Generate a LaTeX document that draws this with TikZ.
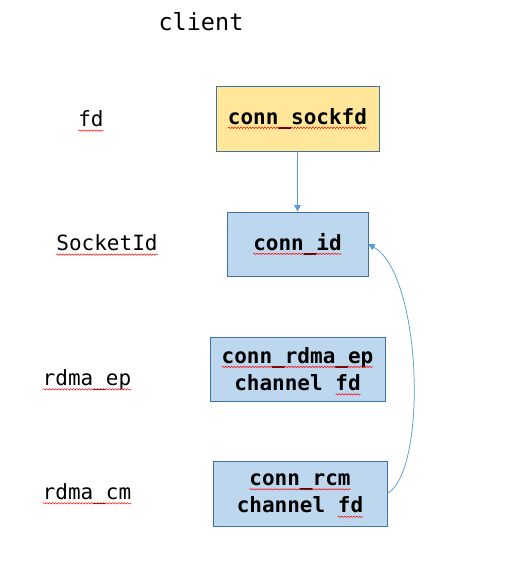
\documentclass[tikz,border=0pt]{standalone}
\usepackage{fontspec}
\usetikzlibrary{decorations.pathmorphing,arrows.meta}
\newfontfamily\monof{DejaVu Sans Mono}
\definecolor{boxblue}{HTML}{BDD7EE}
\definecolor{boxyellow}{HTML}{FFE699}
\definecolor{edgeblue}{HTML}{41719C}
\definecolor{arrowblue}{HTML}{5B9BD5}
\tikzset{
  wv/.style={shape=rectangle,draw=none,fill=none,minimum width=0pt,minimum height=0pt,inner sep=0pt,outer sep=0pt},
  squig/.style={overlay,draw=red,line width=0.5pt,decorate,decoration={snake,amplitude=0.7pt,segment length=3pt}},
  boxnode/.style={draw=edgeblue,line width=0.7pt,align=center,font=\monof\fontsize{21}{27.5}\selectfont\bfseries,inner sep=0pt},
  lbl/.style={font=\monof\fontsize{21}{26}\selectfont,inner sep=0pt},
  conn/.style={draw=arrowblue,line width=0.75pt,-{Triangle[length=6.5pt,width=6.5pt]}}
}
\newcommand\wavy[1]{\tikz[baseline=(w.base)]{\node[wv](w){#1};\path[squig] ([yshift=-3.8pt]w.base west) -- ([yshift=-3.8pt]w.base east);}}
\begin{document}
\begin{tikzpicture}[x=1pt,y=-1pt]
\useasboundingbox (0,0) rectangle (511,568);
\node[lbl,font=\monof\fontsize{23.5}{28}\selectfont] (client) at (201,22) {client};
\node[lbl] (lfd) at (91,119) {\wavy{fd}};
\node[lbl] (lsock) at (107,243) {\wavy{SocketId}};
\node[lbl] (lep) at (87,380) {\wavy{rdma\_ep}};
\node[lbl] (lcm) at (87,494) {\wavy{rdma\_cm}};
\node[boxnode,fill=boxyellow,minimum width=163pt,minimum height=65pt] (sock) at (297.5,118.5) {\wavy{conn\_sockfd}};
\node[boxnode,fill=boxblue,minimum width=141pt,minimum height=64pt] (id) at (297.5,244) {\wavy{conn\_id}};
\node[boxnode,fill=boxblue,minimum width=175pt,minimum height=64pt] (ep) at (297.5,369) {\wavy{conn\_rdma\_ep}\\channel \wavy{fd}};
\node[boxnode,fill=boxblue,minimum width=174pt,minimum height=65pt] (cm) at (300,493.5) {\wavy{conn\_rcm}\\channel \wavy{fd}};
\draw[conn] (sock.south) -- (id.north);
\draw[conn] (cm.east) .. controls (428,470) and (422,275) .. (id.east);
\end{tikzpicture}
\end{document}
